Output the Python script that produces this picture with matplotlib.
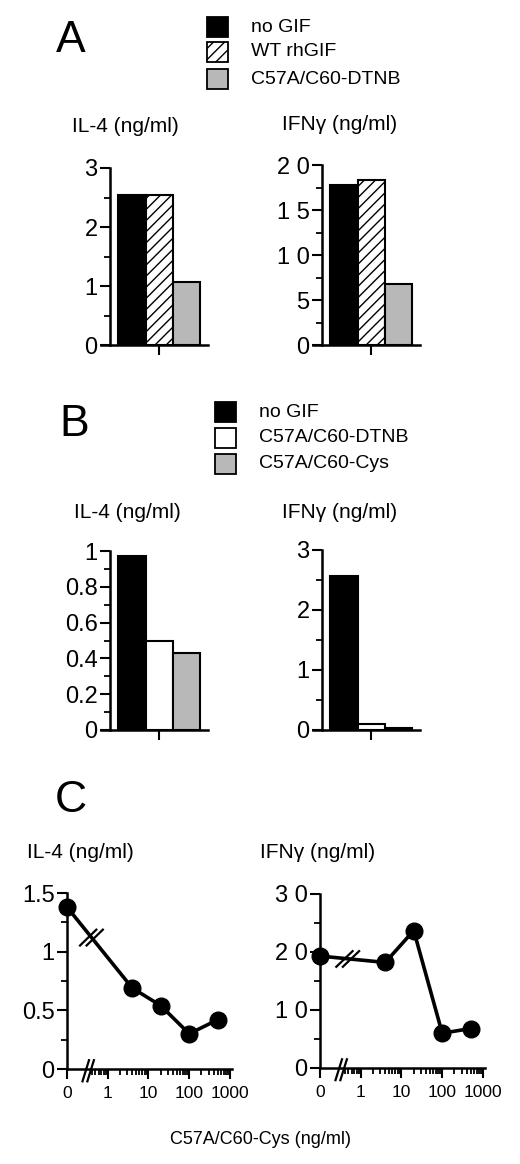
import numpy as np
import matplotlib.pyplot as plt
from matplotlib.patches import Rectangle

plt.rcParams['font.family'] = ['Liberation Sans', 'DejaVu Sans']
plt.rcParams['hatch.linewidth'] = 1.0

# panel A
a_labels = ["no GIF", "WT rhGIF", "C57A/C60-DTNB"]
a_il4 = [2.55, 2.55, 1.07]
a_ifn = [17.8, 18.3, 6.8]
# panel B
b_labels = ["no GIF", "C57A/C60-DTNB", "C57A/C60-Cys"]
b_il4 = [0.97, 0.50, 0.43]
b_ifn = [2.57, 0.10, 0.03]
# panel C (dose in ng/ml, 0 = none)
c_dose = [0, 4, 20, 100, 500]
c_il4 = [1.38, 0.69, 0.54, 0.30, 0.42]
c_ifn = [19.3, 18.2, 23.7, 6.0, 6.8]
c_ticks = ["0", "1", "10", "100", "1000"]

W, H = 520, 1164
fig = plt.figure(figsize=(W / 100, H / 100), dpi=100)
GREY = '#b8b8b8'


def ax_px(x0, x1, ytop, ybot):
    return fig.add_axes([x0 / W, 1 - ybot / H, (x1 - x0) / W, (ybot - ytop) / H])


def style(ax):
    for s in ['top', 'right']:
        ax.spines[s].set_visible(False)
    for s in ['left', 'bottom']:
        ax.spines[s].set_linewidth(1.8)
    ax.tick_params(which='major', length=7, width=1.5, labelsize=17, pad=2)
    ax.tick_params(which='minor', length=4, width=1.3)
    ax.patch.set_alpha(0)


def bar_panel(x0, ytop, ybot, vals, ymax, major, minor, styles):
    ax = ax_px(x0, x0 + 107, ytop, ybot)
    style(ax)
    for i, (v, st) in enumerate(zip(vals, styles)):
        ax.bar(i - 1, v, width=1, linewidth=1.5, edgecolor='black', **st)
    ax.set_xlim(-2.13, 1.78)
    ax.set_ylim(0, ymax)
    ax.spines['left'].set_position(('data', -1.8))
    ax.spines['left'].set_bounds(0, ymax)
    ax.set_xticks([0])
    ax.set_xticklabels([''])
    ax.set_yticks(major)
    ax.set_yticks(minor, minor=True)
    return ax


a_styles = [dict(color='black'), dict(color='white', hatch='///'), dict(color=GREY)]
b_styles = [dict(color='black'), dict(color='white'), dict(color=GREY)]

ax = bar_panel(101, 168, 345, a_il4, 3, [0, 1, 2, 3], [0.5, 1.5, 2.5], a_styles)
ax = bar_panel(313, 165, 345, a_ifn, 20, [0, 5, 10, 15, 20], [2.5, 7.5, 12.5, 17.5], a_styles)
ax.set_yticklabels(['0', '5', '1 0', '1 5', '2 0'])
ax = bar_panel(101, 551, 730, b_il4, 1, [0, 0.2, 0.4, 0.6, 0.8, 1],
               [0.1, 0.3, 0.5, 0.7, 0.9], b_styles)
ax.set_yticklabels(['0', '0.2', '0.4', '0.6', '0.8', '1'])
ax = bar_panel(313, 550, 730, b_ifn, 3, [0, 1, 2, 3], [0.5, 1.5, 2.5], b_styles)


def pos(d):
    return 0.0 if d == 0 else 1 + np.log10(d)


minor_pos = [1 + np.log10(k * 10.0 ** e) for e in range(-1, 3) for k in range(2, 10)]
minor_pos = [p for p in minor_pos if p > 0.5]


def line_panel(x0, ytop, ybot, vals, ymax, major, minor, ylabels, brk):
    ax = ax_px(x0, x0 + 165, ytop, ybot)
    style(ax)
    xs = [pos(d) for d in c_dose]
    ax.plot(xs, vals, color='black', lw=2.6, marker='o', ms=12, clip_on=False, zorder=3)
    ax.set_xlim(0, 4.05)
    ax.set_ylim(0, ymax)
    ax.set_xticks([0, 1, 2, 3, 4])
    ax.set_xticklabels(c_ticks, fontsize=12.5)
    ax.tick_params(axis='x', pad=5)
    ax.set_xticks(minor_pos, minor=True)
    ax.set_yticks(major)
    ax.set_yticklabels(ylabels)
    ax.set_yticks(minor, minor=True)
    # break marks on the x axis
    for dx in (0.0, 0.12):
        ax.plot([0.38 + dx, 0.54 + dx], [-0.07 * ymax, 0.05 * ymax], color='black',
                lw=1.6, clip_on=False)
    # break marks on the line
    bx, by = brk
    for dx in (-0.08, 0.08):
        ax.plot([bx + dx - 0.2, bx + dx + 0.2], [by - 0.045 * ymax, by + 0.045 * ymax],
                color='black', lw=1.6, clip_on=False)
    return ax


line_panel(67, 893, 1069, c_il4, 1.5, [0, 0.5, 1, 1.5], [0.25, 0.75, 1.25],
           ['0', '0.5', '1', '1.5'], (0.6, 1.12))
line_panel(320, 894, 1068, c_ifn, 30, [0, 10, 20, 30], [5, 15, 25],
           ['0', '1 0', '2 0', '3 0'], (0.68, 18.8))

# titles and panel letters
fs = 15
fig.text(72 / W, 1 - 127 / H, "IL-4 (ng/ml)", fontsize=fs, va='center')
fig.text(282 / W, 1 - 125 / H, "IFNγ (ng/ml)", fontsize=fs, va='center')
fig.text(74 / W, 1 - 513 / H, "IL-4 (ng/ml)", fontsize=fs, va='center')
fig.text(282 / W, 1 - 513 / H, "IFNγ (ng/ml)", fontsize=fs, va='center')
fig.text(27 / W, 1 - 853 / H, "IL-4 (ng/ml)", fontsize=fs, va='center')
fig.text(260 / W, 1 - 853 / H, "IFNγ (ng/ml)", fontsize=fs, va='center')
fig.text(260 / W, 1 - 1140 / H, "C57A/C60-Cys (ng/ml)", fontsize=13, ha='center', va='center')
for letter, x, y in [("A", 56, 40), ("B", 59, 425), ("C", 55, 800)]:
    fig.text(x / W, 1 - y / H, letter, fontsize=32, va='center')


def legend(x, ys, labels, styles):
    for y, lab, st in zip(ys, labels, styles):
        fig.patches.append(Rectangle((x / W, 1 - (y + 10) / H), 21 / W, 20 / H,
                                     transform=fig.transFigure, edgecolor='black',
                                     linewidth=1.3, facecolor=st['color'],
                                     hatch=st.get('hatch')))
        fig.text((x + 44) / W, 1 - y / H, lab, fontsize=14, va='center')


legend(207, [27, 52, 79], a_labels, a_styles)
legend(215, [412, 438, 464], b_labels, b_styles)

fig.savefig('out.png', dpi=100)
